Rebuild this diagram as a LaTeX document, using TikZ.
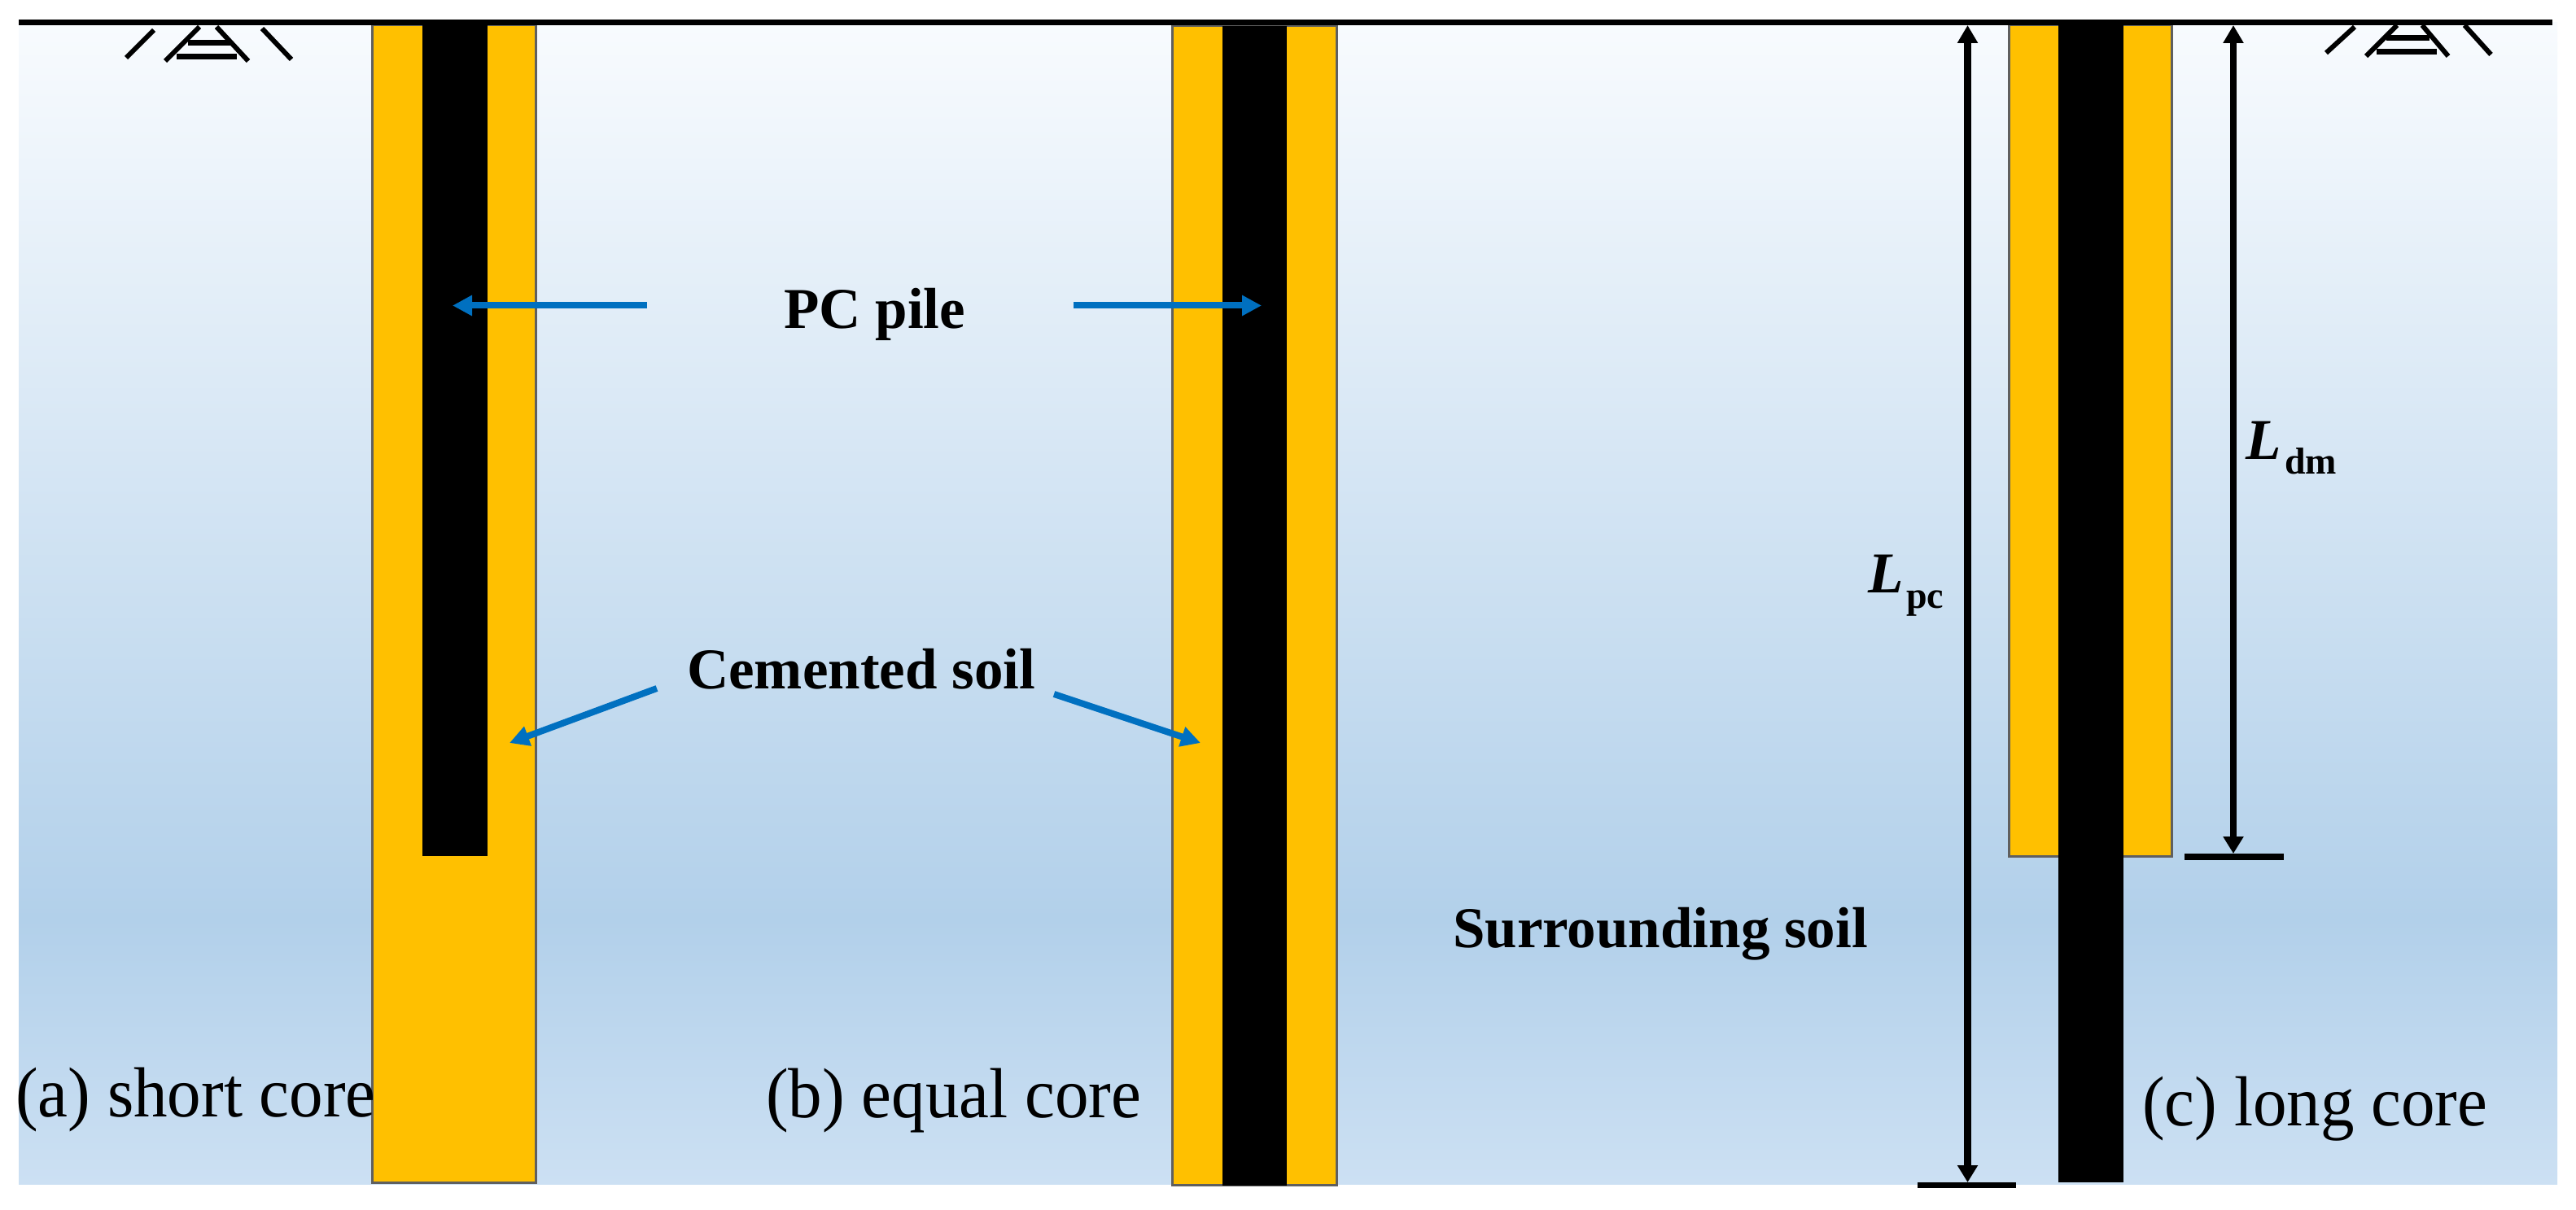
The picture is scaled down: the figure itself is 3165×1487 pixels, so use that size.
\documentclass[tikz,border=0pt]{standalone}
\usepackage{fontspec}
\setmainfont{Liberation Serif}
\usetikzlibrary{arrows.meta}
\definecolor{soilA}{HTML}{F8FBFE}
\definecolor{soilB}{HTML}{B2D0EA}
\definecolor{soilC}{HTML}{CCE0F3}
\definecolor{cem}{HTML}{FFC000}
\definecolor{edgegray}{HTML}{5F5F5F}
\definecolor{callout}{HTML}{0070C0}
\pgfdeclareverticalshading{soilshade}{100bp}{color(0bp)=(soilC); color(25bp)=(soilC); color(36.4bp)=(soilB); color(75bp)=(soilA); color(100bp)=(soilA)}
\newcommand{\capstretch}[1]{\scalebox{1}[1.05]{#1}}
\tikzset{
  cemented/.style={fill=cem,draw=edgegray,line width=3pt},
  core/.style={fill=black},
  ground/.style={draw=black,line width=7pt},
  dim/.style={draw=black,line width=8.5pt,{Triangle[length=22pt,width=24pt]}-{Triangle[length=21pt,width=24pt]}},
  tick/.style={draw=black,line width=7.5pt},
  callarrow/.style={draw=callout,line width=8pt,-{Triangle[length=24pt,width=24pt]}},
  wl/.style={draw=black,line width=6pt},
  wlbar/.style={draw=black,line width=7pt},
  caption/.style={inner sep=0pt,anchor=base west,font=\fontsize{83}{90}\selectfont},
  labelb/.style={inner sep=0pt,anchor=base west,font=\fontsize{71}{80}\selectfont\bfseries},
  dimL/.style={inner sep=0pt,anchor=base west,font=\fontsize{71}{80}\selectfont\bfseries\itshape},
  dimsub/.style={inner sep=0pt,anchor=base west,font=\fontsize{46}{50}\selectfont\bfseries},
}
\begin{document}
\begin{tikzpicture}[x=1pt,y=-1pt]
\useasboundingbox (0,0) rectangle (3165,1487);
\fill[white] (0,0) rectangle (3165,1487);
% soil
\shade[shading=soilshade] (23,28) rectangle (3142,1455);
% piles
\path[cemented] (457.5,31) rectangle (658.5,1453.5);
\fill[core] (519,31) rectangle (599,1052);
\path[cemented] (1440.5,32) rectangle (1642.5,1456.5);
\fill[core] (1502,32) rectangle (1581,1457);
\path[cemented] (2468.5,31) rectangle (2668.5,1052);
\fill[core] (2529,31) rectangle (2609,1453);
% ground line
\draw[ground] (23,27.5) -- (3136,27.5);
% water level symbols
\draw[wl] (189,37) -- (155,71);
\draw[wl] (245,33) -- (203,75);
\draw[wl] (266,33) -- (305,75);
\draw[wl] (322,35) -- (358,73);
\draw[wlbar] (231,52.5) -- (283,52.5);
\draw[wlbar] (217,69.5) -- (291,69.5);
\draw[wl] (2893,33) -- (2858,65);
\draw[wl] (2945,31) -- (2907,69);
\draw[wl] (2976,31) -- (3008,69);
\draw[wl] (3028,31) -- (3060.5,67);
\draw[wlbar] (2932,46.5) -- (2985,46.5);
\draw[wlbar] (2920,63.5) -- (2994,63.5);
% labels
\node[labelb] (pc) at (963,403) {PC pile};
\node[labelb] (cs) at (844,846) {Cemented soil};
\node[labelb] (ss) at (1785,1164) {Surrounding soil};
\node[caption] (capa) at (19,1372) {\capstretch{(a) short core}};
\node[caption] (capb) at (941,1373) {\capstretch{(b) equal core}};
\node[caption] (capc) at (2632,1383) {\capstretch{(c) long core}};
\node[dimL] (lpc) at (2295,728) {L};
\node[dimsub] (lpcs) at (2342,747) {pc};
\node[dimL] (ldm) at (2759,564) {L};
\node[dimsub] (ldms) at (2807,582) {dm};
% callouts
\coordinate (pa1) at (795,375.5);
\coordinate (pa2) at (556,375.5);
\coordinate (pb1) at (1319,375.5);
\coordinate (pb2) at (1550,375.5);
\coordinate (ca1) at (807,846);
\coordinate (ca2) at (626,913);
\coordinate (cb1) at (1295,853);
\coordinate (cb2) at (1475,913);
\draw[callarrow] (pa1) -- (pa2);
\draw[callarrow] (pb1) -- (pb2);
\draw[callarrow] (ca1) -- (ca2);
\draw[callarrow] (cb1) -- (cb2);
% dimensions
\coordinate (dt1) at (2417.5,31);
\coordinate (db1) at (2417.5,1453);
\coordinate (dt2) at (2744,31);
\coordinate (db2) at (2744,1049);
\draw[tick] (2356,1456.5) -- (2477,1456.5);
\draw[tick] (2684,1053) -- (2806,1053);
\draw[dim] (dt1) -- (db1);
\draw[dim] (dt2) -- (db2);
\end{tikzpicture}
\end{document}
